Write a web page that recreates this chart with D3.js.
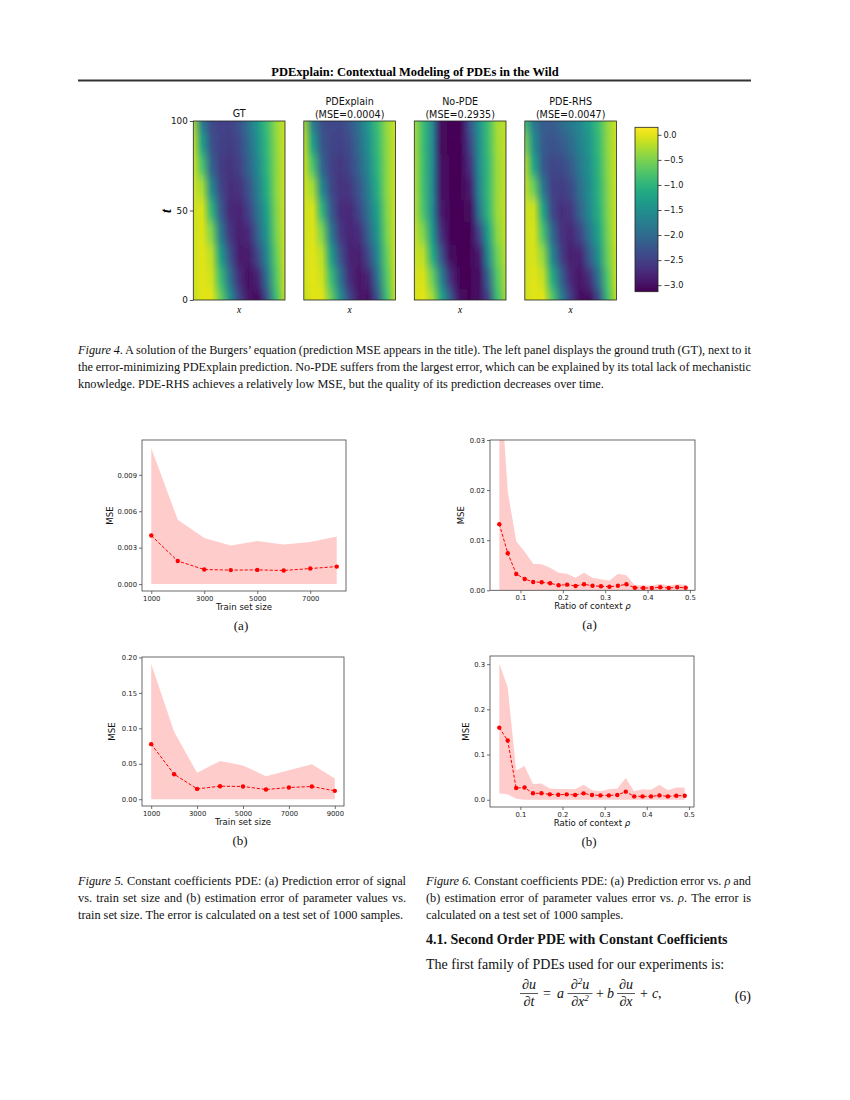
<!DOCTYPE html>
<html><head><meta charset="utf-8">
<script src="https://cdn.jsdelivr.net/npm/d3@7"></script>
<style>body{margin:0;background:#fff}svg{display:block}</style>
</head><body>
<svg id="page" width="850" height="1100"></svg>
<script>
// ---------------- DATA ----------------
const heatT = [0, 12.5, 25, 37.5, 50, 62.5, 75, 87.5, 100];
const heatX = [0, 0.1, 0.2, 0.3, 0.4, 0.5, 0.6, 0.7, 0.8, 0.9, 1.0];
const gtRows = [
  [-0.15, 0.0, 0.0, -0.6, -1.5, -2.4, -2.95, -3.05, -2.3, -0.9, -0.15],
  [-0.1, 0.0, -0.1, -0.9, -1.9, -2.7, -3.0, -2.8, -1.9, -0.75, -0.12],
  [-0.1, 0.0, -0.2, -1.3, -2.3, -2.85, -2.9, -2.4, -1.6, -0.65, -0.1],
  [-0.1, -0.02, -0.5, -1.8, -2.6, -2.85, -2.75, -2.1, -1.4, -0.55, -0.1],
  [-0.1, -0.05, -1.0, -2.2, -2.75, -2.8, -2.5, -1.9, -1.25, -0.5, -0.1],
  [-0.1, -0.3, -1.6, -2.45, -2.7, -2.65, -2.3, -1.75, -1.1, -0.45, -0.1],
  [-0.1, -0.8, -2.1, -2.55, -2.65, -2.5, -2.1, -1.6, -1.0, -0.45, -0.1],
  [-0.15, -1.3, -2.3, -2.5, -2.55, -2.4, -2.0, -1.5, -0.95, -0.42, -0.1],
  [-0.3, -1.8, -2.4, -2.5, -2.5, -2.3, -1.9, -1.4, -0.9, -0.4, -0.1]
];
const pdexplainRows = [
  [-0.15, 0.0, 0.0, -0.6, -1.5, -2.4, -2.9, -3.0, -2.3, -0.9, -0.15],
  [-0.1, 0.0, -0.1, -0.9, -1.9, -2.7, -2.95, -2.8, -1.9, -0.75, -0.12],
  [-0.1, 0.0, -0.2, -1.3, -2.3, -2.8, -2.85, -2.4, -1.6, -0.65, -0.1],
  [-0.1, -0.02, -0.5, -1.8, -2.6, -2.8, -2.7, -2.1, -1.4, -0.55, -0.1],
  [-0.1, -0.05, -1.0, -2.2, -2.7, -2.75, -2.45, -1.9, -1.25, -0.5, -0.1],
  [-0.1, -0.3, -1.6, -2.4, -2.65, -2.6, -2.25, -1.75, -1.1, -0.45, -0.1],
  [-0.1, -0.8, -2.05, -2.5, -2.6, -2.45, -2.1, -1.6, -1.0, -0.45, -0.1],
  [-0.15, -1.3, -2.25, -2.45, -2.5, -2.35, -2.0, -1.5, -0.95, -0.42, -0.1],
  [-0.3, -1.75, -2.35, -2.45, -2.45, -2.25, -1.9, -1.4, -0.9, -0.4, -0.1]
];
const noPdeRows = [
  [-0.05, 0.0, -0.3, -1.2, -2.2, -3.0, -3.1, -3.0, -2.5, -0.9, -0.3],
  [-0.08, -0.05, -0.6, -1.7, -2.7, -3.1, -3.1, -3.0, -2.1, -0.75, -0.25],
  [-0.1, -0.2, -1.1, -2.3, -3.05, -3.1, -3.1, -2.9, -1.6, -0.6, -0.2],
  [-0.15, -0.5, -1.4, -2.7, -3.1, -3.1, -3.1, -2.5, -1.3, -0.45, -0.17],
  [-0.2, -0.8, -1.6, -2.9, -3.1, -3.1, -3.05, -1.9, -1.0, -0.35, -0.15],
  [-0.22, -0.85, -1.6, -3.0, -3.1, -3.1, -2.9, -1.7, -0.95, -0.35, -0.15],
  [-0.25, -0.85, -1.6, -3.0, -3.1, -3.1, -2.7, -1.6, -0.95, -0.35, -0.15],
  [-0.28, -0.9, -1.6, -3.05, -3.1, -3.1, -2.5, -1.55, -0.9, -0.32, -0.15],
  [-0.3, -0.9, -1.6, -3.05, -3.1, -3.1, -2.3, -1.5, -0.9, -0.3, -0.15]
];
const pdeRhsRows = [
  [-0.1, 0.0, 0.0, -0.7, -1.7, -2.5, -3.0, -3.05, -2.4, -0.9, -0.15],
  [-0.1, 0.0, -0.15, -1.1, -2.1, -2.75, -2.95, -2.7, -1.9, -0.75, -0.13],
  [-0.1, -0.05, -0.4, -1.6, -2.5, -2.85, -2.8, -2.2, -1.5, -0.6, -0.12],
  [-0.1, -0.05, -0.8, -2.0, -2.65, -2.75, -2.45, -1.85, -1.25, -0.55, -0.1],
  [-0.1, -0.1, -1.2, -2.4, -2.7, -2.6, -2.1, -1.6, -1.1, -0.5, -0.1],
  [-0.15, -0.6, -1.8, -2.5, -2.55, -2.4, -1.95, -1.55, -1.05, -0.47, -0.1],
  [-0.2, -1.2, -2.2, -2.45, -2.4, -2.2, -1.8, -1.5, -1.0, -0.45, -0.1],
  [-0.5, -1.55, -2.2, -2.3, -2.2, -2.0, -1.7, -1.4, -0.95, -0.42, -0.1],
  [-0.9, -1.8, -2.2, -2.2, -2.0, -1.8, -1.6, -1.3, -0.9, -0.4, -0.1]
];
const panelTitles = [["GT"], ["PDExplain", "(MSE=0.0004)"], ["No-PDE", "(MSE=0.2935)"], ["PDE-RHS", "(MSE=0.0047)"]];
const heatTTicks = [0, 50, 100];
const colorTicks = [0.0, -0.5, -1.0, -1.5, -2.0, -2.5, -3.0];

// Figure 5 (a): signal prediction error vs train set size
const trainSizeA = [1000, 2000, 3000, 4000, 5000, 6000, 7000, 8000];
const mseA = [0.0040, 0.0019, 0.00120, 0.00115, 0.00117, 0.00112, 0.00128, 0.00144];
const upperA = [0.0112, 0.0053, 0.0038, 0.00318, 0.00355, 0.00326, 0.00347, 0.00393];
const lowerA = [0, 0, 0, 0, 0, 0, 0, 0];
const xTicksA = [1000, 3000, 5000, 7000];
const yTicksA = [0.000, 0.003, 0.006, 0.009];
// Figure 5 (b): parameter estimation error vs train set size
const trainSizeB = [1000, 2000, 3000, 4000, 5000, 6000, 7000, 8000, 9000];
const mseB = [0.0777, 0.0353, 0.0146, 0.0184, 0.0180, 0.0137, 0.0165, 0.0180, 0.0118];
const upperB = [0.191, 0.095, 0.0372, 0.054, 0.0476, 0.0325, 0.041, 0.0494, 0.0292];
const lowerB = [0, 0, 0, 0, 0, 0, 0, 0, 0];
const xTicksB = [1000, 3000, 5000, 7000, 9000];
const yTicksB = [0.00, 0.05, 0.10, 0.15, 0.20];
// Figure 6: error vs ratio of context rho
const rho = [0.05, 0.07, 0.09, 0.11, 0.13, 0.15, 0.17, 0.19, 0.21, 0.23, 0.25, 0.27, 0.29, 0.31, 0.33, 0.35, 0.37, 0.39, 0.41, 0.43, 0.45, 0.47, 0.49];
const mseRhoA = [0.0132, 0.0074, 0.00326, 0.00226, 0.00166, 0.0016, 0.0014, 0.0010, 0.00113, 0.00087, 0.0012, 0.0009, 0.0008, 0.0007, 0.0009, 0.0012, 0.0005, 0.00045, 0.00045, 0.0006, 0.00045, 0.0006, 0.0005];
const upperRhoA = [0.045, 0.0197, 0.0098, 0.0077, 0.0053, 0.0052, 0.0045, 0.0035, 0.0033, 0.0025, 0.0035, 0.0025, 0.0022, 0.0019, 0.0033, 0.0030, 0.0010, 0.0010, 0.0009, 0.0013, 0.0009, 0.0012, 0.0011];
const lowerRhoA = [0, 0, 0, 0, 0, 0, 0, 0, 0, 0, 0, 0, 0, 0, 0, 0, 0, 0, 0, 0, 0, 0, 0];
const mseRhoB = [0.1595, 0.131, 0.026, 0.027, 0.0143, 0.0143, 0.012, 0.011, 0.012, 0.0105, 0.0142, 0.0105, 0.0097, 0.0097, 0.0105, 0.018, 0.0075, 0.0075, 0.0075, 0.0097, 0.0075, 0.009, 0.009];
const upperRhoB = [0.3015, 0.249, 0.065, 0.0745, 0.035, 0.036, 0.025, 0.024, 0.024, 0.023, 0.033, 0.021, 0.019, 0.023, 0.025, 0.048, 0.019, 0.023, 0.022, 0.033, 0.021, 0.027, 0.027];
const lowerRhoB = [0.014, 0.012, 0.002, 0.0, 0.0, 0.0, 0.0, 0.0, 0.0, 0.0, 0.0, 0.0, 0.0, 0.0, 0.0, 0.0, 0.0, 0.0, 0.0, 0.0, 0.0, 0.0, 0.0];
const xTicksRho = [0.1, 0.2, 0.3, 0.4, 0.5];
const yTicksRhoA = [0.00, 0.01, 0.02, 0.03];
const yTicksRhoB = [0.0, 0.1, 0.2, 0.3];

// ---------------- DRAW ----------------
const svg = d3.select("#page");
const defs = svg.append("defs");
const SERIF = "Liberation Serif, Times New Roman, serif";
const SANS = "DejaVu Sans, sans-serif";

// page header
svg.append("text").attr("x", 415).attr("y", 76).attr("text-anchor", "middle")
  .attr("font-family", SERIF).attr("font-weight", "bold").attr("font-size", 12.5)
  .text("PDExplain: Contextual Modeling of PDEs in the Wild");
svg.append("line").attr("x1", 78).attr("x2", 751).attr("y1", 80.5).attr("y2", 80.5)
  .attr("stroke", "#333").attr("stroke-width", 1.8);

// heatmaps
const color = d3.scaleSequential(d3.interpolateViridis).domain([-3.13, 0.15]);
const panelRows = [gtRows, pdexplainRows, noPdeRows, pdeRhsRows];
const panelLeft = [193.3, 303.8, 414.3, 524.8];
const panelW = 91.7;
const yT = d3.scaleLinear().domain([0, 100]).range([300, 121]);

defs.append("filter").attr("id", "vblur").attr("x", "-5%").attr("y", "-20%")
  .attr("width", "110%").attr("height", "140%")
  .append("feGaussianBlur").attr("stdDeviation", "0 6");

panelRows.forEach((rows, p) => {
  const x0 = panelLeft[p];
  const xS = d3.scaleLinear().domain([0, 1]).range([x0, x0 + panelW]);
  defs.append("clipPath").attr("id", "pclip" + p).append("rect")
    .attr("x", x0).attr("y", yT(100)).attr("width", panelW).attr("height", yT(0) - yT(100));
  const outer = svg.append("g").attr("clip-path", `url(#pclip${p})`);
  const inner = outer.append("g").attr("filter", "url(#vblur)");
  rows.forEach((row, r) => {
    const gid = `hg${p}_${r}`;
    const grad = defs.append("linearGradient").attr("id", gid).attr("x1", 0).attr("x2", 1).attr("y1", 0).attr("y2", 0);
    row.forEach((v, c) => grad.append("stop").attr("offset", heatX[c]).attr("stop-color", color(v)));
    const t = heatT[r];
    let tTop = t + 6.25, tBot = t - 6.25;
    if (r === 0) tBot -= 12;
    if (r === rows.length - 1) tTop += 12;
    inner.append("rect").attr("x", xS(0)).attr("width", xS(1) - xS(0))
      .attr("y", yT(tTop)).attr("height", yT(tBot) - yT(tTop) + 0.5)
      .attr("fill", `url(#${gid})`);
  });
  svg.append("rect").attr("x", x0).attr("y", yT(100)).attr("width", panelW).attr("height", yT(0) - yT(100))
    .attr("fill", "none").attr("stroke", "#222").attr("stroke-width", 0.8);
  const tl = panelTitles[p];
  tl.forEach((s, i) => {
    svg.append("text").attr("x", x0 + panelW / 2)
      .attr("y", tl.length === 1 ? 117 : 105 + i * 12.8)
      .attr("text-anchor", "middle").attr("font-family", SANS).attr("font-size", 9.6).attr("fill", "#111").text(s);
  });
  svg.append("text").attr("x", x0 + panelW / 2).attr("y", 313).attr("text-anchor", "middle")
    .attr("font-family", SERIF).attr("font-style", "italic").attr("font-size", 9.5).text("x");
});
// t axis
const tAxis = svg.append("g").attr("transform", `translate(${panelLeft[0]},0)`)
  .call(d3.axisLeft(yT).tickValues(heatTTicks).tickSize(3.5).tickPadding(2).tickFormat(d3.format("d")));
tAxis.select(".domain").remove();
tAxis.selectAll("text").attr("font-family", SANS).attr("font-size", 8.8).attr("fill", "#111");
tAxis.selectAll("line").attr("stroke", "#222").attr("stroke-width", 0.8);
svg.append("text").attr("transform", "translate(171,211) rotate(-90)").attr("text-anchor", "middle")
  .attr("font-family", SERIF).attr("font-style", "italic").attr("font-weight", "bold").attr("font-size", 14).text("t");

// colorbar
const cb = {x: 635, w: 23, top: 127.3, bot: 291.7};
const cScale = d3.scaleLinear().domain(color.domain()).range([cb.bot, cb.top]);
const cg = defs.append("linearGradient").attr("id", "cbgrad").attr("x1", 0).attr("x2", 0).attr("y1", 1).attr("y2", 0);
d3.range(0, 21).forEach(i => {
  const v = color.domain()[0] + (color.domain()[1] - color.domain()[0]) * i / 20;
  cg.append("stop").attr("offset", i / 20).attr("stop-color", color(v));
});
svg.append("rect").attr("x", cb.x).attr("y", cb.top).attr("width", cb.w).attr("height", cb.bot - cb.top)
  .attr("fill", "url(#cbgrad)").attr("stroke", "#222").attr("stroke-width", 0.8);
const cAxis = svg.append("g").attr("transform", `translate(${cb.x + cb.w},0)`)
  .call(d3.axisRight(cScale).tickValues(colorTicks).tickSize(3.5).tickPadding(2)
    .tickFormat(d => d3.format(".1f")(d).replace("-", "\u2212")));
cAxis.select(".domain").remove();
cAxis.selectAll("text").attr("font-family", SANS).attr("font-size", 8.2).attr("fill", "#111");
cAxis.selectAll("line").attr("stroke", "#222").attr("stroke-width", 0.8);

// caption helper: justified via word spacing
function captionLines(x, y0, lh, width, lines, size) {
  lines.forEach((ln, i) => {
    const t = svg.append("text").attr("x", x).attr("y", y0 + i * lh)
      .attr("font-family", SERIF).attr("font-size", size).attr("fill", "#111");
    let full = "";
    ln.parts.forEach(pt => {
      const ts = t.append("tspan").text(pt[0]);
      full += pt[0];
      if (pt[1]) ts.attr("font-style", "italic");
    });
    if (ln.justify) {
      const natural = t.node().getComputedTextLength();
      const spaces = (full.match(/ /g) || []).length;
      if (spaces > 0) t.attr("word-spacing", (width - natural) / spaces);
    }
  });
}
captionLines(78, 354, 17, 673, [
  {parts: [["Figure 4.", true], [" A solution of the Burgers’ equation (prediction MSE appears in the title). The left panel displays the ground truth (GT), next to it"]], justify: true},
  {parts: [["the error-minimizing PDExplain prediction. No-PDE suffers from the largest error, which can be explained by its total lack of mechanistic"]], justify: true},
  {parts: [["knowledge. PDE-RHS achieves a relatively low MSE, but the quality of its prediction decreases over time."]]}
], 12.3);

// line chart helper
function lineChart(o) {
  const x = d3.scaleLinear().domain(o.xDom).range([o.left, o.right]);
  const y = d3.scaleLinear().domain(o.yDom).range([o.bottom, o.top]);
  const id = "clip_" + o.id;
  defs.append("clipPath").attr("id", id).append("rect")
    .attr("x", o.left).attr("y", o.top).attr("width", o.right - o.left).attr("height", o.bottom - o.top);
  const g = svg.append("g");
  const pg = g.append("g").attr("clip-path", `url(#${id})`);
  const pts = o.xs.map((v, i) => ({x: v, m: o.mean[i], lo: o.lower[i], hi: o.upper[i]}));
  pg.append("path").datum(pts).attr("fill", "red").attr("fill-opacity", 0.2)
    .attr("d", d3.area().x(d => x(d.x)).y0(d => y(d.lo)).y1(d => y(d.hi)));
  pg.append("path").datum(pts).attr("fill", "none").attr("stroke", "red").attr("stroke-width", 1)
    .attr("stroke-dasharray", "3.2,1.8").attr("d", d3.line().x(d => x(d.x)).y(d => y(d.m)));
  pg.selectAll("circle").data(pts).join("circle").attr("cx", d => x(d.x)).attr("cy", d => y(d.m))
    .attr("r", 2.2).attr("fill", "red");
  const xa = g.append("g").attr("transform", `translate(0,${o.bottom})`)
    .call(d3.axisBottom(x).tickValues(o.xTicks).tickSize(3).tickPadding(2).tickFormat(o.xFmt));
  const ya = g.append("g").attr("transform", `translate(${o.left},0)`)
    .call(d3.axisLeft(y).tickValues(o.yTicks).tickSize(3).tickPadding(2).tickFormat(o.yFmt));
  [xa, ya].forEach(a => {
    a.attr("font-family", SANS).attr("font-size", 6.8);
    a.select(".domain").remove();
    a.selectAll("text").attr("fill", "#222");
    a.selectAll("line").attr("stroke", "#333").attr("stroke-width", 0.7);
  });
  g.append("rect").attr("x", o.left).attr("y", o.top).attr("width", o.right - o.left).attr("height", o.bottom - o.top)
    .attr("fill", "none").attr("stroke", "#444").attr("stroke-width", 0.8);
  const xl = g.append("text").attr("x", (o.left + o.right) / 2).attr("y", o.bottom + 19).attr("text-anchor", "middle")
    .attr("font-family", SANS).attr("font-size", 8.6).attr("fill", "#111");
  o.xlabel.forEach(pt => { const ts = xl.append("tspan").text(pt[0]); if (pt[1]) ts.attr("font-style", "italic"); });
  g.append("text").attr("transform", `translate(${o.left - o.ylabOff},${(o.top + o.bottom) / 2}) rotate(-90)`)
    .attr("text-anchor", "middle").attr("font-family", SANS).attr("font-size", 8.6).attr("fill", "#111").text("MSE");
  g.append("text").attr("x", (o.left + o.right) / 2 - 3).attr("y", o.bottom + 39).attr("text-anchor", "middle")
    .attr("font-family", SERIF).attr("font-size", 13).attr("fill", "#111").text(o.sub);
}

lineChart({id: "a5", left: 142, right: 346, top: 440, bottom: 591, xDom: [650, 8350], yDom: [-0.00057, 0.01187],
  xs: trainSizeA, mean: mseA, upper: upperA, lower: lowerA, xTicks: xTicksA, yTicks: yTicksA,
  xFmt: d3.format("d"), yFmt: d3.format(".3f"), xlabel: [["Train set size"]], ylabOff: 29, sub: "(a)"});
lineChart({id: "b5", left: 142, right: 344, top: 657, bottom: 806, xDom: [600, 9400], yDom: [-0.00955, 0.2006],
  xs: trainSizeB, mean: mseB, upper: upperB, lower: lowerB, xTicks: xTicksB, yTicks: yTicksB,
  xFmt: d3.format("d"), yFmt: d3.format(".2f"), xlabel: [["Train set size"]], ylabOff: 27, sub: "(b)"});
lineChart({id: "a6", left: 490, right: 695, top: 440, bottom: 590.3, xDom: [0.028, 0.512], yDom: [0, 0.03],
  xs: rho, mean: mseRhoA, upper: upperRhoA, lower: lowerRhoA, xTicks: xTicksRho, yTicks: yTicksRhoA,
  xFmt: d3.format(".1f"), yFmt: d3.format(".2f"), xlabel: [["Ratio of context "], ["ρ", true]], ylabOff: 26, sub: "(a)"});
lineChart({id: "b6", left: 490, right: 694, top: 656, bottom: 807, xDom: [0.028, 0.512], yDom: [-0.016, 0.318],
  xs: rho, mean: mseRhoB, upper: upperRhoB, lower: lowerRhoB, xTicks: xTicksRho, yTicks: yTicksRhoB,
  xFmt: d3.format(".1f"), yFmt: d3.format(".1f"), xlabel: [["Ratio of context "], ["ρ", true]], ylabOff: 21, sub: "(b)"});

// figure 5 / 6 captions
captionLines(78, 885, 17, 328, [
  {parts: [["Figure 5.", true], [" Constant coefficients PDE: (a) Prediction error of signal"]], justify: true},
  {parts: [["vs. train set size and (b) estimation error of parameter values vs."]], justify: true},
  {parts: [["train set size. The error is calculated on a test set of 1000 samples."]]}
], 12.3);
captionLines(426, 885, 17, 325, [
  {parts: [["Figure 6.", true], [" Constant coefficients PDE: (a) Prediction error vs. "], ["ρ", true], [" and"]], justify: true},
  {parts: [["(b) estimation error of parameter values error vs. "], ["ρ", true], [". The error is"]], justify: true},
  {parts: [["calculated on a test set of 1000 samples."]]}
], 12.3);

// section heading & paragraph
svg.append("text").attr("x", 426).attr("y", 944).attr("font-family", SERIF).attr("font-weight", "bold")
  .attr("font-size", 14).attr("fill", "#111").text("4.1. Second Order PDE with Constant Coefficients");
svg.append("text").attr("x", 426).attr("y", 969).attr("font-family", SERIF)
  .attr("font-size", 14).attr("fill", "#111").text("The first family of PDEs used for our experiments is:");

// equation (6)
const eq = svg.append("g").attr("font-family", SERIF).attr("font-size", 14).attr("fill", "#111");
function frac(cx, num, den, w) {
  eq.append("text").attr("x", cx).attr("y", 989).attr("text-anchor", "middle").attr("font-style", "italic").html(num);
  eq.append("line").attr("x1", cx - w / 2).attr("x2", cx + w / 2).attr("y1", 993.5).attr("y2", 993.5).attr("stroke", "#111").attr("stroke-width", 0.7);
  eq.append("text").attr("x", cx).attr("y", 1006).attr("text-anchor", "middle").attr("font-style", "italic").html(den);
}
frac(529, "∂u", "∂t", 18);
eq.append("text").attr("x", 543).attr("y", 998).text("=");
eq.append("text").attr("x", 557).attr("y", 998).attr("font-style", "italic").text("a");
frac(580, "∂<tspan font-size='9' dy='-5'>2</tspan><tspan dy='5'>u</tspan>", "∂x<tspan font-size='9' dy='-5'>2</tspan>", 25);
eq.append("text").attr("x", 596).attr("y", 998).text("+");
eq.append("text").attr("x", 607).attr("y", 998).attr("font-style", "italic").text("b");
frac(626, "∂u", "∂x", 18);
eq.append("text").attr("x", 640).attr("y", 998).text("+");
eq.append("text").attr("x", 652).attr("y", 998).attr("font-style", "italic").text("c");
eq.append("text").attr("x", 658).attr("y", 998).text(",");
eq.append("text").attr("x", 751).attr("y", 1001).attr("text-anchor", "end").text("(6)");
</script>
</body></html>
